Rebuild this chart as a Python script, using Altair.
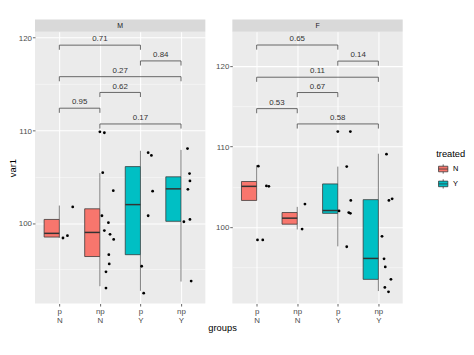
import altair as alt
import pandas as pd

# ---------------- data ----------------
groups = ["p", "np", "p", "np"]
treated = ["N", "N", "Y", "Y"]
panels = ["M", "F"]

# box statistics per panel (order: p/N, np/N, p/Y, np/Y)
M_lower = [98.4, 93.2, 92.7, 93.7]
M_q1 = [98.5, 96.4, 96.6, 100.2]
M_median = [98.9, 99.0, 102.0, 103.7]
M_q3 = [100.4, 101.55, 106.1, 105.0]
M_upper = [101.9, 105.4, 107.8, 107.9]

F_lower = [103.3, 99.7, 97.6, 92.05]
F_q1 = [103.3, 100.35, 101.7, 93.5]
F_median = [105.05, 101.1, 102.05, 96.1]
F_q3 = [105.65, 101.8, 105.35, 103.4]
F_upper = [107.7, 102.5, 107.5, 109.1]

# individual observations and their horizontal jitter (fraction of a category step)
M_values = [
    [98.4, 98.65, 101.75],
    [109.85, 109.75, 105.45, 103.5, 100.8, 100.05, 99.2, 98.8, 98.25, 96.6, 95.6, 94.75, 93.0],
    [107.6, 107.3, 103.45, 100.8, 95.35, 92.45],
    [108.05, 105.35, 104.55, 103.65, 100.15, 100.4, 93.75],
]
M_jitter = [
    [0.09, 0.20, 0.33],
    [0.0, 0.11, 0.07, 0.33, 0.05, 0.21, 0.11, 0.25, 0.34, 0.22, 0.23, 0.15, 0.15],
    [0.19, 0.27, 0.30, 0.19, 0.03, 0.08],
    [0.16, 0.21, 0.22, 0.17, 0.07, 0.22, 0.25],
]
F_values = [
    [107.55, 105.1, 105.05, 98.4, 98.4],
    [102.85, 99.75],
    [111.85, 111.85, 107.5, 103.3, 102.0, 101.8, 101.7, 97.55],
    [109.05, 103.3, 103.5, 98.85, 96.05, 95.05, 93.5, 92.5, 91.95],
]
F_jitter = [
    [0.04, 0.24, 0.30, 0.02, 0.15],
    [0.19, 0.12],
    [0.0, 0.31, 0.22, 0.32, 0.03, 0.27, 0.31, 0.22],
    [0.20, 0.26, 0.34, 0.09, 0.14, 0.17, 0.31, 0.16, 0.25],
]

# pairwise comparison brackets
cmp_from = [1, 3, 1, 2, 1, 2]
cmp_to = [3, 4, 4, 3, 2, 4]
M_pvals = ["0.71", "0.84", "0.27", "0.62", "0.95", "0.17"]
M_bracket_y = [119.2, 117.5, 115.8, 114.1, 112.4, 110.7]
F_pvals = ["0.65", "0.14", "0.11", "0.67", "0.53", "0.58"]
F_bracket_y = [122.6, 120.6, 118.6, 116.7, 114.7, 112.8]

M_ydomain = [91.33, 120.65]
F_ydomain = [90.5, 124.25]

# ---------------- layout / style ----------------
W, H = 183, 292
DODGE = 0.375
TIP_FRAC = 0.017
FONT = "Liberation Sans"
colors = ["#F8766D", "#00BFC4"]

label_arr = "[" + ",".join("['%s','%s']" % (g, t) for g, t in zip(groups, treated)) + "]"

xscale = alt.Scale(domain=[0.4, 4.6], nice=False, zero=False)
xaxis = alt.Axis(
    values=[1, 2, 3, 4], labelExpr=label_arr + "[datum.value-1]", title=None,
    grid=True, gridColor="white", gridWidth=1.1, domain=False,
    tickColor="#333333", tickSize=2.75, tickWidth=0.8,
    labelColor="#4D4D4D", labelFontSize=8.5, labelPadding=1.5, labelLineHeight=9,
    labelFont=FONT,
)


def yaxis(ydom, first):
    lo = int(ydom[0] // 5) * 5
    vals = [v for v in range(lo, int(ydom[1]) + 5, 5) if ydom[0] <= v <= ydom[1]]
    kw = dict(
        values=vals,
        labelExpr="datum.value % 10 === 0 ? datum.label : ''",
        grid=True, gridColor="white",
        gridWidth={"condition": {"test": "datum.value % 10 === 0", "value": 1.1}, "value": 0.5},
        tickOpacity={"condition": {"test": "datum.value % 10 === 0", "value": 1}, "value": 0},
        domain=False, tickColor="#333333", tickSize=2.75, tickWidth=0.8,
        labelColor="#4D4D4D", labelFontSize=8.5, labelPadding=1, labelFont=FONT,
    )
    if first:
        kw.update(title="var1", titleFontSize=10, titleFontWeight="normal",
                  titleColor="black", titlePadding=1, titleFont=FONT)
    else:
        kw.update(title=None)
    return alt.Axis(**kw)


def panel(name, lower, q1, med, q3, upper, values, jitter, pvals, by, ydom, first, last):
    ysc = alt.Scale(domain=ydom, nice=False, zero=False)
    yax = yaxis(ydom, first)

    def X(f):
        return alt.X(f, type="quantitative", scale=xscale, axis=xaxis)

    def Y(f):
        return alt.Y(f, type="quantitative", scale=ysc, axis=yax)

    idx = [1, 2, 3, 4]
    box = pd.DataFrame({
        "i": idx, "treated": treated, "lower": lower, "q1": q1,
        "median": med, "q3": q3, "upper": upper,
    })
    box["xl"] = box["i"] - DODGE
    box["xr"] = box["i"]

    pts = pd.DataFrame({
        "x": [i + j for i, vs, js in zip(idx, values, jitter) for j in js],
        "v": [v for vs in values for v in vs],
    })

    span = ydom[1] - ydom[0]
    br = pd.DataFrame({"x1": cmp_from, "x2": cmp_to, "y": by, "label": pvals})
    br["xm"] = (br["x1"] + br["x2"]) / 2
    br["yt"] = br["y"] - TIP_FRAC * span
    ticks = pd.concat([
        br[["x1", "y", "yt"]].rename(columns={"x1": "xt"}),
        br[["x2", "y", "yt"]].rename(columns={"x2": "xt"}),
    ])

    one = pd.DataFrame({"t": [name]})

    base = alt.Chart(box)
    w_up = base.mark_rule(color="#555555", strokeWidth=0.8).encode(x=X("i"), y=Y("q3"), y2="upper")
    w_lo = base.mark_rule(color="#555555", strokeWidth=0.8).encode(x=X("i"), y=Y("lower"), y2="q1")
    rect = base.mark_rect(stroke="#333333", strokeWidth=0.8).encode(
        x=X("xl"), x2="xr", y=Y("q1"), y2="q3",
        fill=alt.Fill("treated:N", scale=alt.Scale(domain=["N", "Y"], range=colors),
                      legend=alt.Legend(
                          title="treated", orient="none", legendX=431, legendY=127,
                          titleFontSize=10, titleFontWeight="normal", titleColor="black",
                          titleFont=FONT, titlePadding=5, labelFont=FONT,
                          labelFontSize=8, labelColor="black", labelOffset=5,
                          symbolType="M-1,-0.6H1V0.6H-1Z M0,-1V-0.6 M0,0.6V1 M-1,0H1",
                          symbolSize=100, symbolStrokeColor="#333333", symbolStrokeWidth=0.8,
                          symbolOffset=2, rowPadding=1, padding=0,
                      )),
    )
    medl = base.mark_rule(color="#333333", strokeWidth=1.6).encode(x=X("xl"), x2="xr", y=Y("median"))
    dots = alt.Chart(pts).mark_circle(size=9, color="black", opacity=1).encode(x=X("x"), y=Y("v"))
    hline = alt.Chart(br).mark_rule(color="#4D4D4D", strokeWidth=0.9).encode(x=X("x1"), x2="x2", y=Y("y"))
    tline = alt.Chart(ticks).mark_rule(color="#4D4D4D", strokeWidth=0.9).encode(x=X("xt"), y=Y("y"), y2="yt")
    txt = alt.Chart(br).mark_text(baseline="bottom", dy=-2, fontSize=8.5, color="#333333", font=FONT).encode(
        x=X("xm"), y=Y("y"), text="label")

    strip = alt.Chart(one).mark_rect(color="#D9D9D9").encode(
        x=alt.value(0), x2=alt.value(W), y=alt.value(-13), y2=alt.value(0))
    strip_t = alt.Chart(one).mark_text(fontSize=7.5, color="#1A1A1A", baseline="middle", font=FONT).encode(
        x=alt.value(W / 2), y=alt.value(-6.5), text="t")

    layers = [w_up, w_lo, rect, medl, dots, hline, tline, txt, strip, strip_t]
    if last:
        gt = alt.Chart(pd.DataFrame({"t": ["groups"]})).mark_text(
            fontSize=10, color="black", baseline="middle", font=FONT).encode(
            x=alt.value(-10.5), y=alt.value(H + 26), text="t")
        layers.append(gt)
    return alt.layer(*layers).properties(width=W, height=H)


pM = panel("M", M_lower, M_q1, M_median, M_q3, M_upper, M_values, M_jitter,
           M_pvals, M_bracket_y, M_ydomain, True, False)
pF = panel("F", F_lower, F_q1, F_median, F_q3, F_upper, F_values, F_jitter,
           F_pvals, F_bracket_y, F_ydomain, False, True)

chart = alt.hconcat(pM, pF, spacing=3).resolve_scale(
    y="independent", x="independent", fill="shared"
).properties(
    padding={"left": 0, "top": 0, "right": 0, "bottom": 0}
).configure(font=FONT, background="white").configure_view(fill="#EBEBEB", stroke=None)

chart.save("out.html", embed_options={"renderer": "svg", "actions": False})
